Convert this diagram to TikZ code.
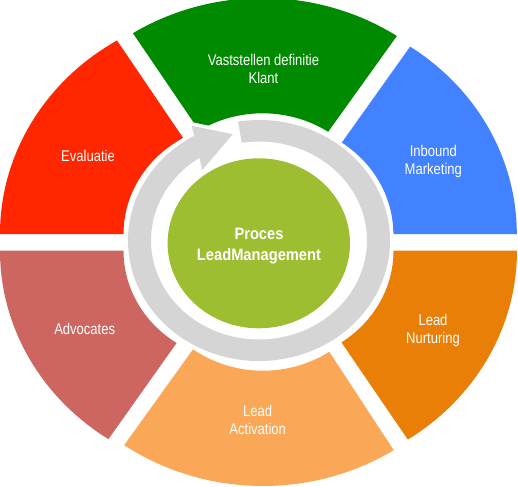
\documentclass[tikz,border=0pt]{standalone}
\usepackage{fontspec}
\setmainfont{Liberation Sans}
\newfontfamily\secfont[FakeStretch=0.84]{Liberation Sans}
\newfontfamily\cenfont[FakeStretch=0.89]{Liberation Sans}
\definecolor{cGreen}{RGB}{0,138,0}
\definecolor{cBlue}{RGB}{66,129,255}
\definecolor{cRed}{RGB}{255,38,0}
\definecolor{cAdv}{RGB}{205,102,96}
\definecolor{cAct}{RGB}{251,167,88}
\definecolor{cOrange}{RGB}{234,127,8}
\definecolor{cCenter}{RGB}{156,190,48}
\definecolor{cRing}{RGB}{213,213,213}
% sector: colour, centre x, centre y (pixels, y down), outer start/end, inner start/end
\newcommand\drawsector[7]{%
  \fill[#1, shift={(#2,-#3)}] (#4:242 and 226)
    arc[start angle=#4, end angle=#5, x radius=242, y radius=226]
    -- (#7:118.5 and 110.7)
    arc[start angle=#7, end angle=#6, x radius=118.5, y radius=110.7] -- cycle;}
\newcommand\ringpath{(99.2:131 and 120.5)
    arc[start angle=99.2, end angle=-240.3, x radius=131, y radius=120.5]
    -- (-67.3,114.8) -- (-26.3,106.2) -- (-56.7,70.5)
    -- (-236.5:108 and 99)
    arc[start angle=-236.5, end angle=99.2, x radius=108, y radius=99] -- cycle}
\tikzset{
  sectxt/.style={text=white, align=center, inner sep=0pt,
    font=\secfont\fontsize{15.5}{18}\selectfont},
  centxt/.style={text=white, align=center, inner sep=0pt,
    font=\cenfont\bfseries\fontsize{16.5}{21}\selectfont}
}
\begin{document}
\begin{tikzpicture}[x=1pt,y=1pt]
\useasboundingbox (0,0) rectangle (518,-486);
% outer segments
\drawsector{cBlue}{274.8}{234}{0}{56}{0}{55.6}
\drawsector{cGreen}{262.6}{224}{56.3}{122.4}{56.4}{122.4}
\drawsector{cRed}{242}{234}{121.1}{180}{119.8}{180}
\drawsector{cAdv}{242}{250.7}{180}{236.5}{180}{236.5}
\drawsector{cAct}{263}{260}{235}{302.7}{233.8}{304}
\drawsector{cOrange}{275}{250.7}{303.3}{360}{304.1}{360}
% circular arrow with white rim
\begin{scope}[shift={(259,-240.5)}]
  \filldraw[white, line width=7pt, line join=miter] \ringpath;
  \fill[cRing] \ringpath;
\end{scope}
% centre
\fill[cCenter] (258.8,-243.3) ellipse[x radius=91.2, y radius=85];
% labels
\node[sectxt] (vast) at (263.5,-68.5) {Vaststellen definitie\\Klant};
\node[sectxt] (inb) at (433.3,-161.5) {Inbound\\Marketing};
\node[sectxt] (nur) at (433,-330) {Lead\\Nurturing};
\node[sectxt] (act) at (257.7,-419.5) {Lead\\Activation};
\node[sectxt] (adv) at (84.7,-328.5) {Advocates};
\node[sectxt] (eva) at (88,-156) {Evaluatie};
\node[centxt] (proc) at (259,-246) {Proces\\LeadManagement};
\end{tikzpicture}
\end{document}
